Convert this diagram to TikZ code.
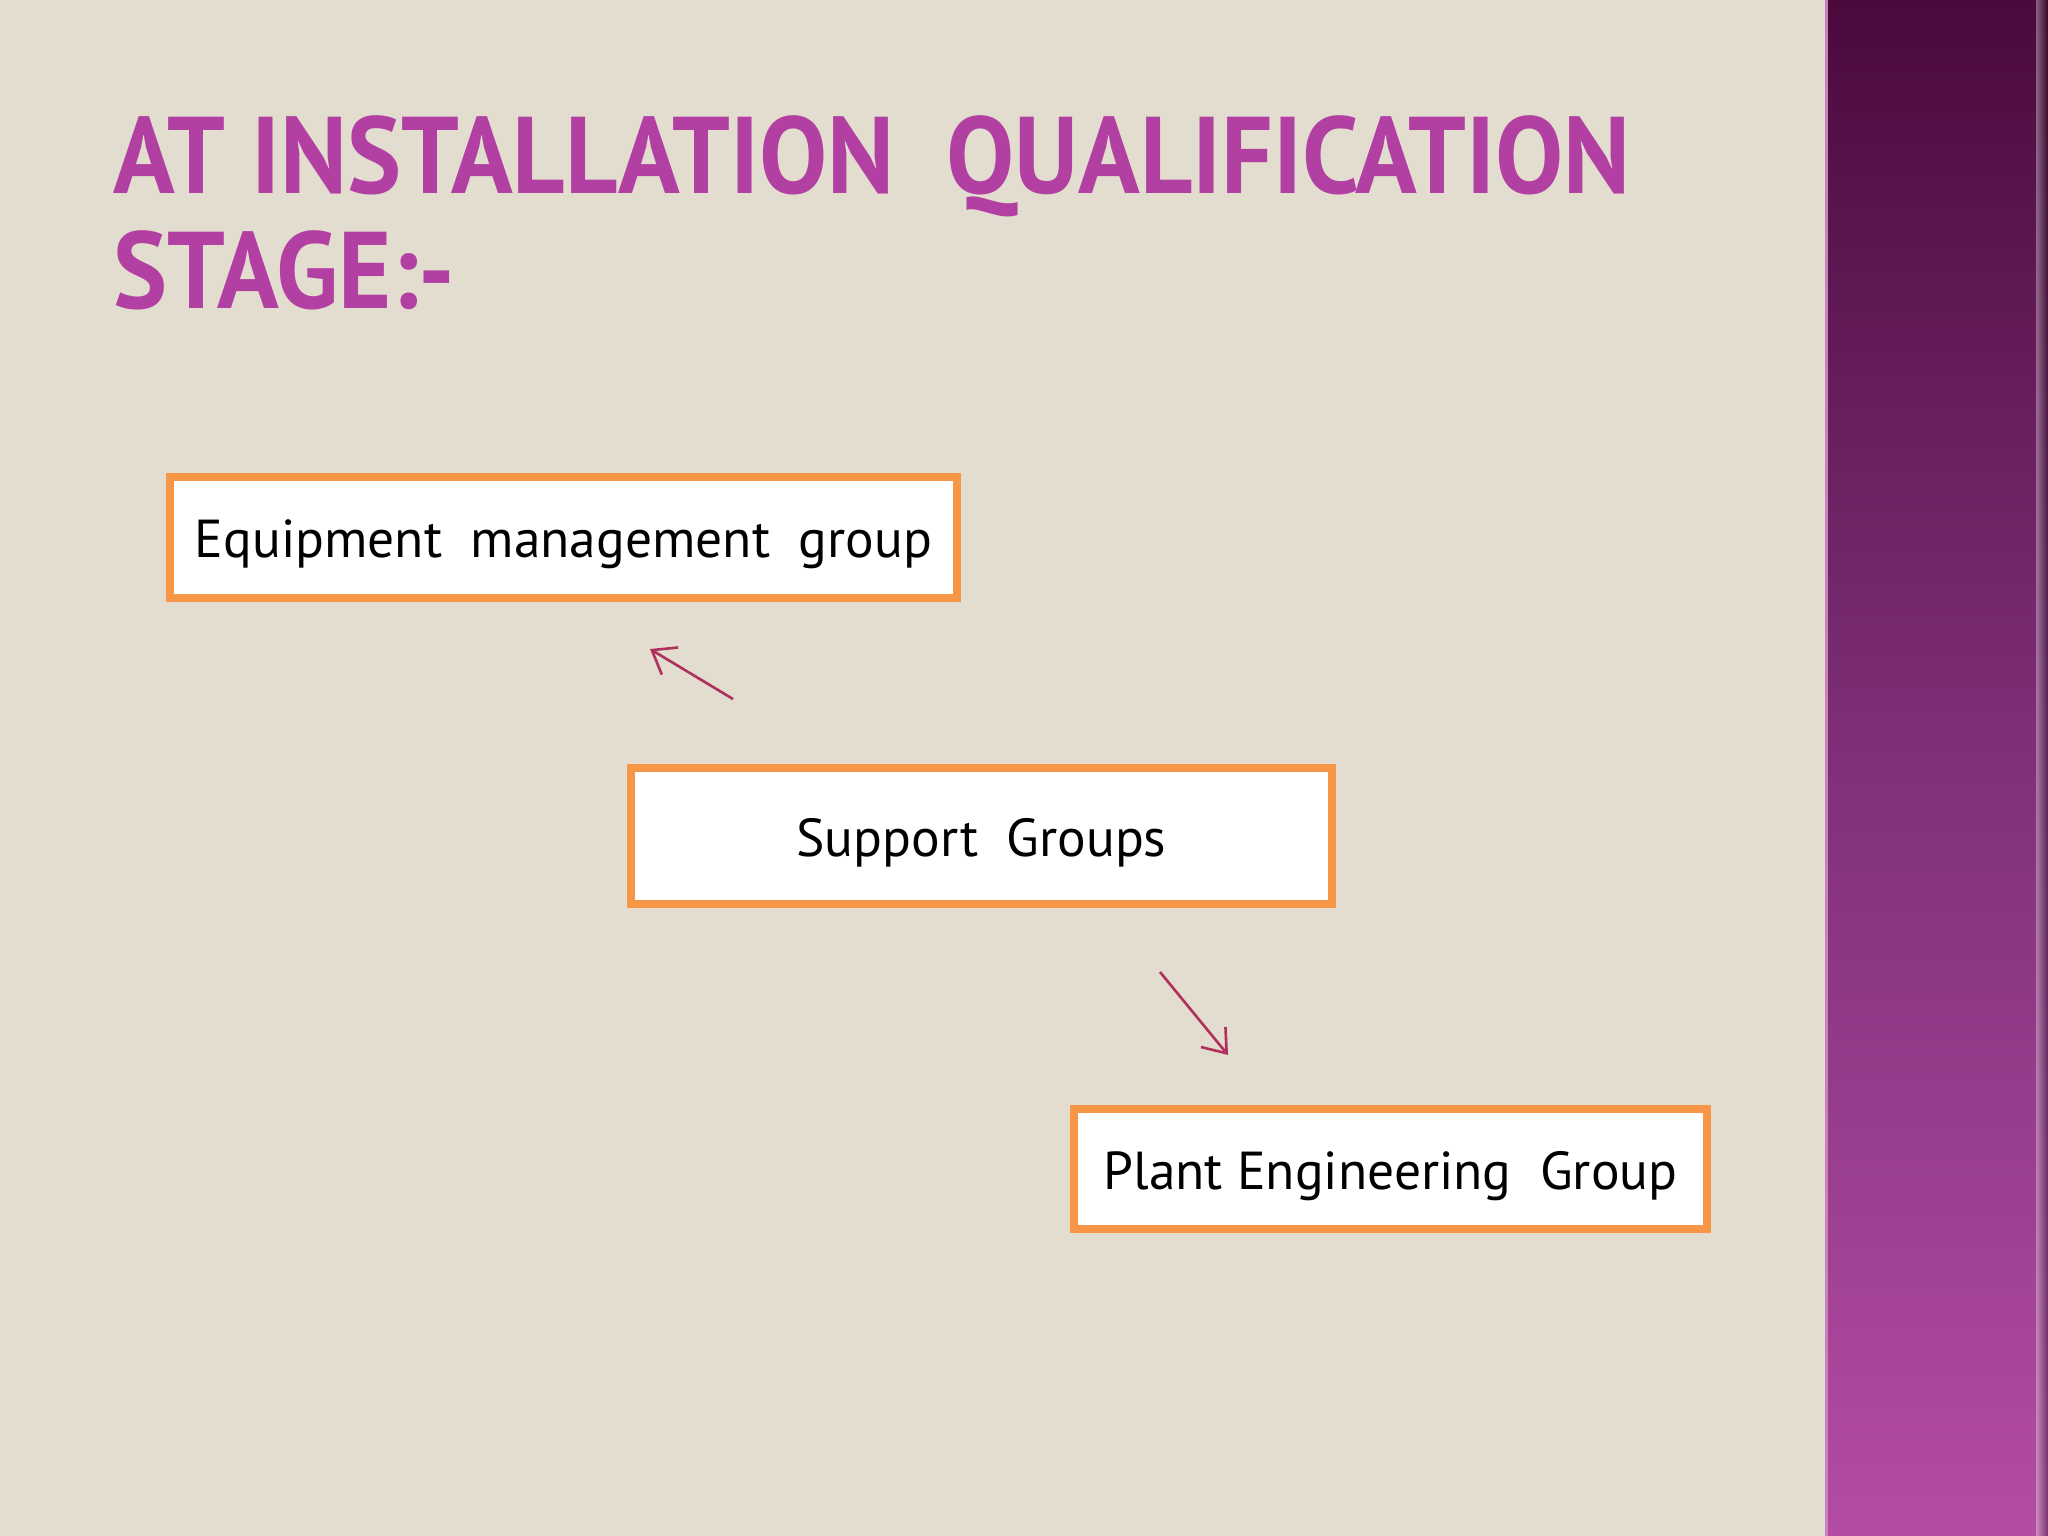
\documentclass[tikz,border=0pt]{standalone}
\usepackage{fontspec}
\setmainfont{PT Sans}
\newfontfamily\titlefont[FakeStretch=0.935]{PT Sans}
\usetikzlibrary{arrows.meta}
\definecolor{bgc}{HTML}{E3DDD0}
\definecolor{titlec}{HTML}{B23FA2}
\definecolor{boxc}{HTML}{F79646}
\definecolor{arrc}{HTML}{B0305E}
\definecolor{bandtop}{HTML}{4A0A3C}
\definecolor{bandmid}{HTML}{80307A}
\definecolor{bandbot}{HTML}{B44CA4}
\tikzset{
  gbox/.style={draw=boxc, line width=2.2pt, fill=white, inner sep=0pt,
    font=\fontsize{15.2}{18}\selectfont, text=black, text height=11.5pt, text depth=0pt},
  conn/.style={draw=arrc, line width=0.75pt, -{Straight Barb[length=6pt,width=9pt]}},
  ttl/.style={font=\titlefont\bfseries\fontsize{31}{36}\selectfont, text=titlec, anchor=base west, inner sep=0pt}
}
\begin{document}
\begin{tikzpicture}[x=0.01cm,y=-0.01cm]
\useasboundingbox (0,0) rectangle (2048,1536);
\fill[bgc] (0,0) rectangle (2048,1536);
% right band
\shade[top color=bandtop, bottom color=bandbot, middle color=bandmid] (1826,0) rectangle (2048,1536);
\shade[left color=black!0, right color=black, opacity=0.35] (2036,0) rectangle (2048,1536);
\fill[bandbot!70!white] (1825,0) rectangle (1828,1536);
% title
\node[ttl] (t1) at (113,193) {AT INSTALLATION\ \ QUALIFICATION};
\node[ttl] (t2) at (113,308) {STAGE:-};
% boxes
\node[gbox, minimum width=7.87cm, minimum height=1.21cm] (e) at (563.5,537.5) {Equipment\ \ management\ \ group};
\node[gbox, minimum width=7.01cm, minimum height=1.36cm] (s) at (981.5,836) {Support\ \ Groups};
\node[gbox, minimum width=6.33cm, minimum height=1.20cm] (p) at (1390.5,1169) {Plant Engineering\ \ Group};
% connectors
\coordinate (a1s) at (733,699);
\coordinate (a1e) at (650,649);
\coordinate (a2s) at (1160,972);
\coordinate (a2e) at (1228,1055);
\draw[conn] (a1s) -- (a1e);
\draw[conn] (a2s) -- (a2e);
\end{tikzpicture}
\end{document}
